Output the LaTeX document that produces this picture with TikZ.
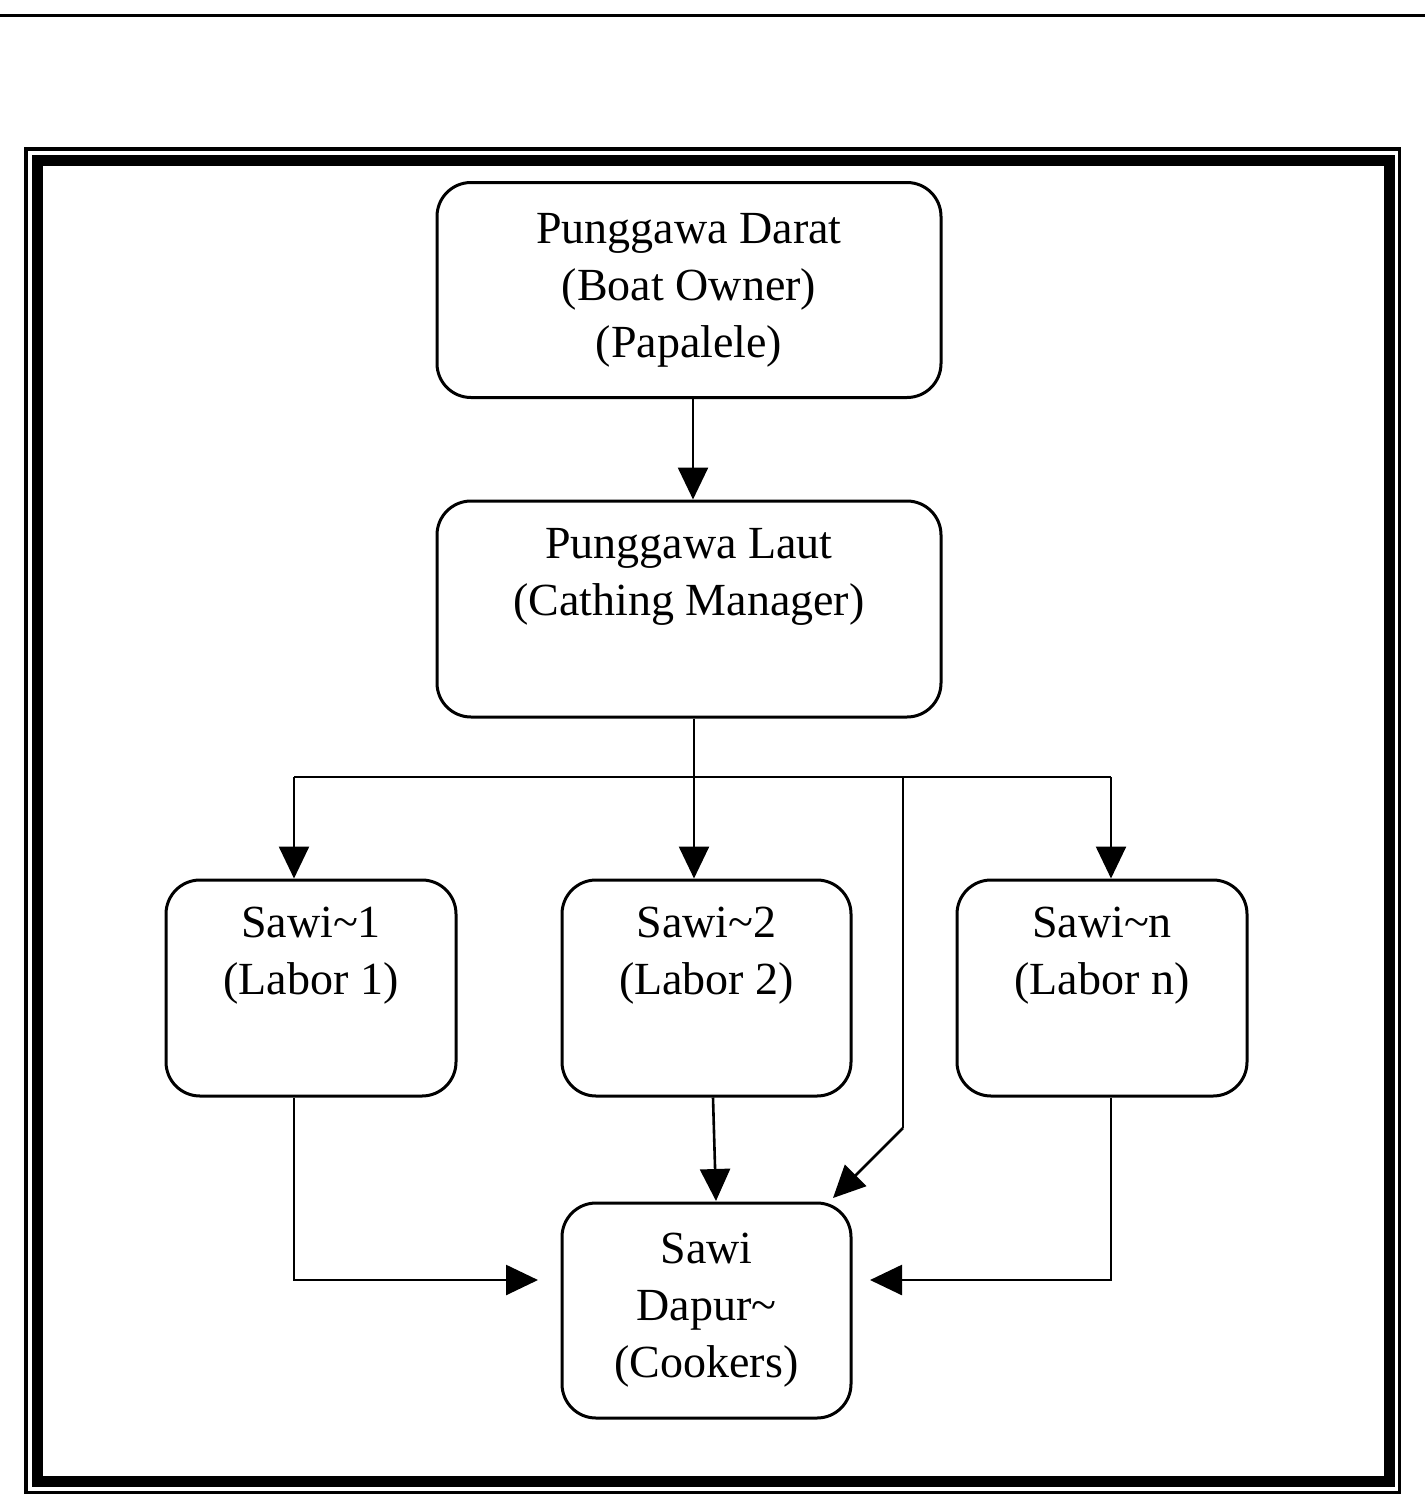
\documentclass[tikz,border=0pt]{standalone}
\usepackage{fontspec}
\setmainfont{Liberation Serif}
\usetikzlibrary{arrows.meta}
\begin{document}
\begin{tikzpicture}[x=1pt,y=-1pt,
  box/.style={draw,line width=3pt,rounded corners=34pt,align=center,inner sep=0pt,
    font=\fontsize{46}{57}\selectfont},
  arr/.style={line width=2.6pt,-{Triangle[length=32pt,width=30pt]}},
  ln/.style={line width=2.6pt}]
\useasboundingbox (0,0) rectangle (1425,1509);
\fill (0,14) rectangle (1425,17.5);
\draw[line width=3.5pt] (26,149) rectangle (1399.5,1492.5);
\draw[line width=11pt] (37.5,160.5) rectangle (1389.5,1481.5);
\node[box,minimum width=504pt,minimum height=215pt] (pd) at (689,290) {Punggawa Darat\\(Boat Owner)\\(Papalele)};
\node[box,minimum width=504pt,minimum height=216pt] (pl) at (689,609) {Punggawa Laut\\(Cathing Manager)\\\strut};
\node[box,minimum width=290pt,minimum height=216pt] (s1) at (311,988) {Sawi\textasciitilde1\\(Labor 1)\\\strut};
\node[box,minimum width=289pt,minimum height=216pt] (s2) at (706.5,988) {Sawi\textasciitilde2\\(Labor 2)\\\strut};
\node[box,minimum width=290pt,minimum height=216pt] (sn) at (1102,988) {Sawi\textasciitilde n\\(Labor n)\\\strut};
\node[box,minimum width=289pt,minimum height=215pt] (ck) at (706.5,1310.5) {Sawi\\Dapur\textasciitilde\\(Cookers)};
\coordinate (bl) at (294,777);
\coordinate (bm) at (694,777);
\coordinate (br) at (1111,777);
\coordinate (bx) at (903,777);
\coordinate (bk) at (903,1128);
\draw[arr] (pd.south -| 693,0) -- (pl.north -| 693,0);
\draw[ln] (pl.south -| bm) -- (bm);
\draw[ln] (bl) -- (br);
\draw[arr] (bl) -- (bl |- s1.north);
\draw[arr] (bm) -- (bm |- s2.north);
\draw[arr] (br) -- (br |- sn.north);
\draw[ln] (bx) -- (bk);
\draw[arr] (bk) -- (833,1198);
\draw[arr] (s2.south -| 713,0) -- (716,1201);
\draw[arr] (s1.south -| bl) -- (294,1280) -- (538,1280);
\draw[arr] (sn.south -| br) -- (1111,1280) -- (870,1280);
\end{tikzpicture}
\end{document}
